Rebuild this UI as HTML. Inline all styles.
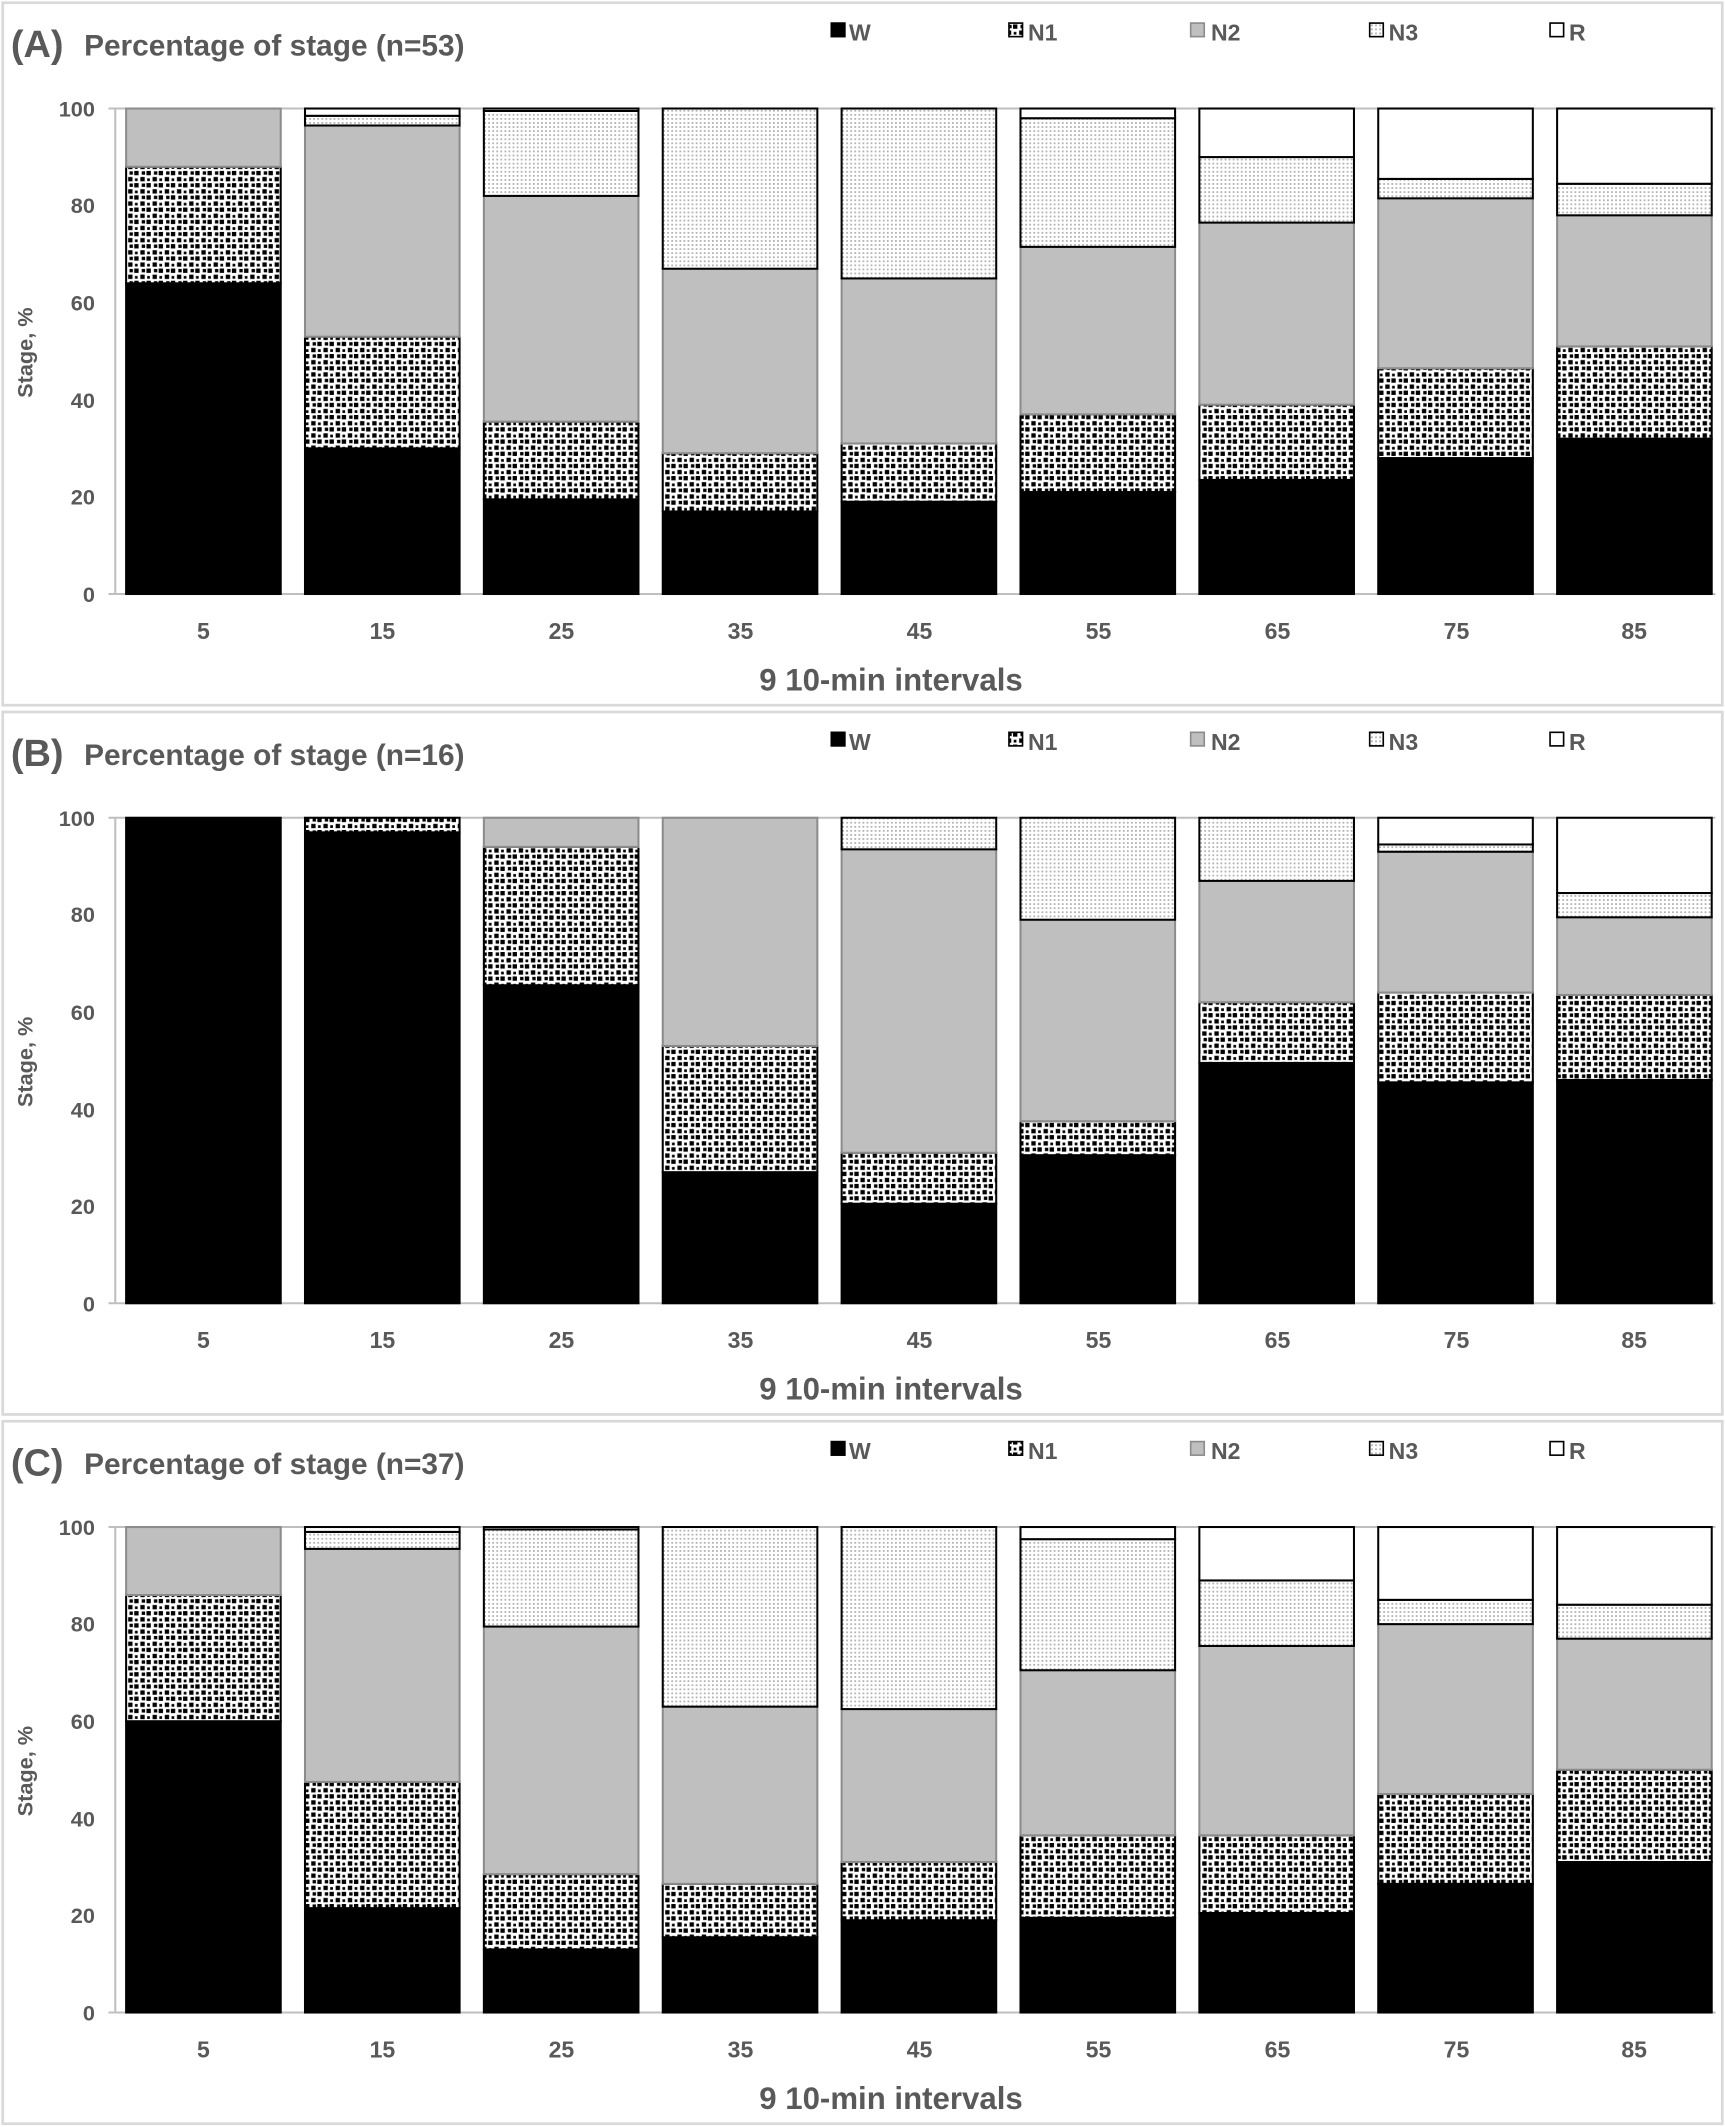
<!DOCTYPE html>
<html><head><meta charset="utf-8"><style>
html,body{margin:0;padding:0;background:#fff}
svg{display:block}
text{font-family:"Liberation Sans",sans-serif;font-weight:bold;fill:#595959}
</style></head><body>
<svg id="s" width="1725" height="2127" viewBox="0 0 1272 1568.4" xmlns="http://www.w3.org/2000/svg">
<defs>
<pattern id="n1" width="9" height="9" patternUnits="userSpaceOnUse">
<rect width="9" height="9" fill="#fff"/>
<rect x="0" y="0" width="3.2" height="3.2" fill="#000"/>
<rect x="4.5" y="4.5" width="3.2" height="3.2" fill="#000"/>
<rect x="5.5" y="0.3" width="2.5" height="2.5" fill="#000"/>
<rect x="0.5" y="5.5" width="2" height="2" fill="#000"/>
</pattern>
<pattern id="n3" width="3" height="3" patternUnits="userSpaceOnUse">
<rect width="3" height="3" fill="#fff"/>
<rect x="0" y="0" width="1.3" height="1.3" fill="#b0b0b0"/>
</pattern>
</defs>
<g id="g"></g>

<!-- Panel A text -->
<text x="8" y="42" font-size="28">(A)</text>
<text x="62" y="41" font-size="22">Percentage of stage (n=53)</text>
<text x="626" y="30" font-size="17">W</text><text x="758" y="30" font-size="17">N1</text><text x="893" y="30" font-size="17">N2</text><text x="1024" y="30" font-size="17">N3</text><text x="1157" y="30" font-size="17">R</text>
<g font-size="16" text-anchor="end"><text x="70" y="86">100</text><text x="70" y="157">80</text><text x="70" y="229">60</text><text x="70" y="301">40</text><text x="70" y="372">20</text><text x="70" y="444">0</text></g>
<text transform="translate(24,260) rotate(-90)" font-size="16" text-anchor="middle">Stage, %</text>
<g font-size="17" text-anchor="middle"><text x="150" y="471">5</text><text x="282" y="471">15</text><text x="414" y="471">25</text><text x="546" y="471">35</text><text x="678" y="471">45</text><text x="810" y="471">55</text><text x="942" y="471">65</text><text x="1074" y="471">75</text><text x="1205" y="471">85</text></g>
<text x="657" y="509" font-size="23" text-anchor="middle">9 10-min intervals</text>

<!-- Panel B text -->
<text x="8" y="565" font-size="28">(B)</text>
<text x="62" y="564" font-size="22">Percentage of stage (n=16)</text>
<text x="626" y="553" font-size="17">W</text><text x="758" y="553" font-size="17">N1</text><text x="893" y="553" font-size="17">N2</text><text x="1024" y="553" font-size="17">N3</text><text x="1157" y="553" font-size="17">R</text>
<g font-size="16" text-anchor="end"><text x="70" y="609">100</text><text x="70" y="680">80</text><text x="70" y="752">60</text><text x="70" y="824">40</text><text x="70" y="895">20</text><text x="70" y="967">0</text></g>
<text transform="translate(24,783) rotate(-90)" font-size="16" text-anchor="middle">Stage, %</text>
<g font-size="17" text-anchor="middle"><text x="150" y="994">5</text><text x="282" y="994">15</text><text x="414" y="994">25</text><text x="546" y="994">35</text><text x="678" y="994">45</text><text x="810" y="994">55</text><text x="942" y="994">65</text><text x="1074" y="994">75</text><text x="1205" y="994">85</text></g>
<text x="657" y="1032" font-size="23" text-anchor="middle">9 10-min intervals</text>

<!-- Panel C text -->
<text x="8" y="1088" font-size="28">(C)</text>
<text x="62" y="1087" font-size="22">Percentage of stage (n=37)</text>
<text x="626" y="1076" font-size="17">W</text><text x="758" y="1076" font-size="17">N1</text><text x="893" y="1076" font-size="17">N2</text><text x="1024" y="1076" font-size="17">N3</text><text x="1157" y="1076" font-size="17">R</text>
<g font-size="16" text-anchor="end"><text x="70" y="1132">100</text><text x="70" y="1203">80</text><text x="70" y="1275">60</text><text x="70" y="1347">40</text><text x="70" y="1418">20</text><text x="70" y="1490">0</text></g>
<text transform="translate(24,1306) rotate(-90)" font-size="16" text-anchor="middle">Stage, %</text>
<g font-size="17" text-anchor="middle"><text x="150" y="1517">5</text><text x="282" y="1517">15</text><text x="414" y="1517">25</text><text x="546" y="1517">35</text><text x="678" y="1517">45</text><text x="810" y="1517">55</text><text x="942" y="1517">65</text><text x="1074" y="1517">75</text><text x="1205" y="1517">85</text></g>
<text x="657" y="1555" font-size="23" text-anchor="middle">9 10-min intervals</text>
</svg>
<script>
var NS="http://www.w3.org/2000/svg",g=document.getElementById("g");
function el(t,a){var e=document.createElementNS(NS,t);for(var k in a)e.setAttribute(k,a[k]);g.appendChild(e);return e;}
var data=[
[[64,88,100,100,100],[30,53,96.5,98.5,100],[19.5,35.5,82,99.5,100],[17,29,67,100,100],[19,31,65,100,100],[21,37,71.5,98,100],[23.5,39,76.5,90,100],[28,46.5,81.5,85.5,100],[32,51,78,84.5,100]],
[[100,100,100,100,100],[97,100,100,100,100],[65.5,94,100,100,100],[27,53,100,100,100],[20.5,31,93.5,100,100],[30.5,37.5,79,100,100],[49.5,62,87,100,100],[45.5,64,93,94.5,100],[46,63.5,79.5,84.5,100]],
[[60,86,100,100,100],[21.5,47.5,95.5,99,100],[13,28.5,79.5,99.5,100],[15.5,26.5,63,100,100],[19,31,62.5,100,100],[19.5,36.5,70.5,97.5,100],[20.5,36.5,75.5,89,100],[26.5,45,80,85,100],[31,50,77,84,100]]];
var fills=["#000","url(#n1)","#bfbfbf","url(#n3)","#fff"],strokes=["#000","#000","#8c8c8c","#000","#000"];
var lx=[613,744,878,1010,1143];
for(var p=0;p<3;p++){
 var off=p*523;
 el("rect",{x:2,y:2+off,width:1268,height:518,fill:"none",stroke:"#d9d9d9","stroke-width":2});
 var yb=438+off,yt=80+off,sc=3.58;
 el("line",{x1:80,y1:yt,x2:1265,y2:yt,stroke:"#bfbfbf","stroke-width":1.5});
 el("line",{x1:80,y1:yb,x2:1265,y2:yb,stroke:"#bfbfbf","stroke-width":1.5});
 el("line",{x1:85,y1:yt,x2:85,y2:yb,stroke:"#bfbfbf","stroke-width":1.5});
 for(var i=0;i<9;i++){
  var cx=150+i*131.9,prev=0;
  for(var k=0;k<5;k++){
   var v=data[p][i][k];
   if(v-prev>0.01){
    el("rect",{x:cx-57,y:yb-v*sc,width:114,height:(v-prev)*sc,fill:fills[k],stroke:strokes[k],"stroke-width":1.5});
   }
   prev=v;
  }
 }
 for(var k=0;k<5;k++) el("rect",{x:lx[k],y:17+off,width:10,height:10,fill:fills[k],stroke:strokes[k],"stroke-width":1.2});
}
</script>
</body></html>
